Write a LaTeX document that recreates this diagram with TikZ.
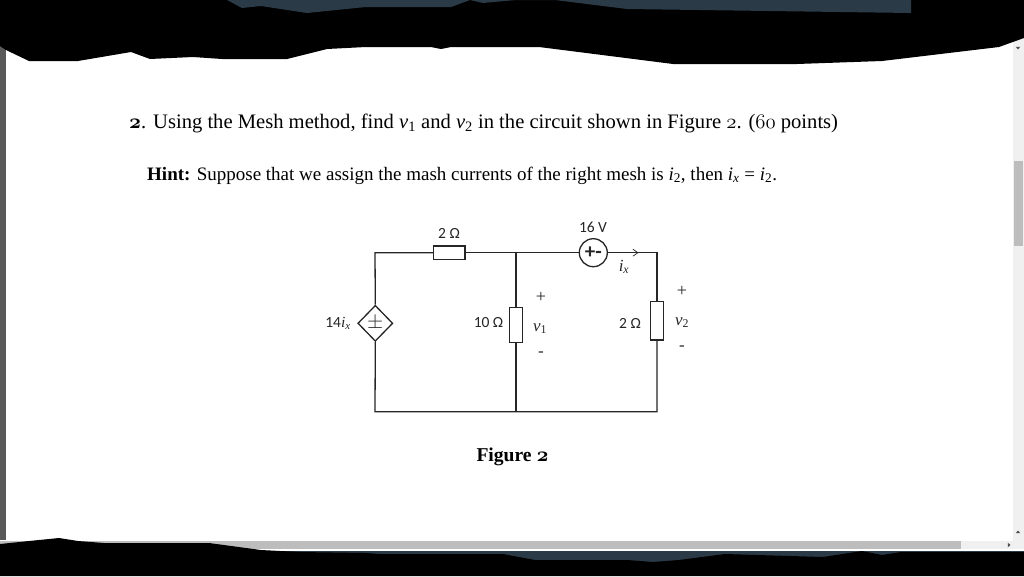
\documentclass[tikz,border=0pt]{standalone}
\usepackage{fontspec}
\setmainfont{Liberation Serif}
\newfontfamily\labelfont{Carlito}
\usetikzlibrary{shapes.geometric,arrows.meta}
\newcommand{\oldnum}[1]{$\mathnormal{#1}$}
\newcommand{\boldnum}[1]{{\boldmath$\mathnormal{#1}$}}
\newcommand{\varsub}[2]{{\rmfamily\itshape #1}\textsubscript{\rmfamily #2}}
\newcommand{\ixvar}{{\rmfamily\itshape i}\textsubscript{\rmfamily\itshape x}}
\definecolor{slate}{HTML}{2B3A47}
\definecolor{barfill}{HTML}{BDBDBD}
\definecolor{trackfill}{HTML}{F0F0F0}
\tikzset{
    wire/.style={line width=1.3pt, black!85, line join=miter},
    resbox/.style={draw, line width=1.3pt, black!85, inner sep=0pt},
    clabel/.style={font=\labelfont\fontsize{15.5}{17}\selectfont, text=black!85, inner sep=0pt},
    mathlabel/.style={font=\fontsize{17}{19}\selectfont, text=black!85, inner sep=0pt},
    textline/.style={anchor=base west, inner sep=0pt, text=black},
}
\begin{document}
\begin{tikzpicture}[x=1pt,y=-1pt]
    \useasboundingbox (0,0) rectangle (1024,576);
    \fill[white] (0,0) rectangle (1024,576);
    % window edges
    \fill[black!65] (0,40) rectangle (6,540);
    \fill[trackfill] (1013,30) rectangle (1024,541);
    \fill[barfill] (1014,160.5) rectangle (1023,246);
    \fill[trackfill] (0,541) rectangle (1024,549);
    \fill[barfill] (0,541) rectangle (961,549);
    \fill[slate] (270,551) rectangle (1024,576);
    \foreach \x/\y/\a in {1018/47/90, 1018/533/-90, 1008/545/0}
        \fill[black!70] (\x,\y) ++(\a:2.5) -- ++(\a+140:3.5) -- ++(\a-90:4.5) -- cycle;
    % scribbled bars
    \fill[black] (0,0) -- (1024,0) -- (1024,38) -- (999,47) -- (882,61) -- (797,64) -- (673,64)
        -- (539,47) -- (451,47) -- (441,49) -- (431,47) -- (366,47) -- (327,49) -- (287,59)
        -- (222,59) -- (193,57) -- (150,59) -- (131,52) -- (78,61) -- (29,61) -- (6,50) -- (0,46) -- cycle;
    \fill[slate] (227,0) -- (242,8) -- (261,6) -- (307,13) -- (366,7) -- (451,7) -- (470,0) -- (483,3)
        -- (516,0) -- (555,0) -- (627,9) -- (911,13) -- (911,0) -- cycle;
    \fill[black] (0,544) -- (29,541) -- (59,538) -- (78,541) -- (104,543) -- (209,543) -- (261,550)
        -- (300,552) -- (366,553) -- (379,554) -- (503,554) -- (535,560) -- (627,560) -- (653,562)
        -- (679,560) -- (725,554) -- (823,557) -- (862,551) -- (882,555) -- (901,552) -- (1024,552)
        -- (1024,576) -- (0,576) -- cycle;
    % question text
    \node[textline, font=\fontsize{20.6}{22}\selectfont] (question) at (129,128)
        {\boldnum{2}. Using the Mesh method, find \varsub{v}{1} and \varsub{v}{2} in the circuit shown in Figure \oldnum{2}. (\oldnum{60} points)};
    \node[textline, font=\fontsize{19}{22}\selectfont] (hint) at (147,180)
        {\textbf{Hint:} Suppose that we assign the mash currents of the right mesh is \varsub{i}{2}, then \ixvar{} = \varsub{i}{2}.};
    \node[font=\bfseries\fontsize{19.6}{20}\selectfont, inner sep=0pt] (caption) at (512.5,457) {Figure \boldnum{2}};
    % circuit
    \coordinate (tl) at (375,252.7);
    \coordinate (tm) at (516,252.7);
    \coordinate (tr) at (657,252.7);
    \coordinate (bl) at (375,411.7);
    \coordinate (bm) at (516,411.7);
    \coordinate (br) at (657,411.7);
    \node[resbox, minimum width=31.5pt, minimum height=13.3pt] (r1) at (449.2,252.7) {};
    \node[resbox, minimum width=12.6pt, minimum height=35.4pt] (r10) at (516,325) {};
    \node[resbox, minimum width=12.6pt, minimum height=38.3pt] (r2) at (657,320.8) {};
    \node[draw, circle, line width=1.3pt, black!85, minimum size=28pt, inner sep=0pt,
        font=\labelfont\bfseries\fontsize{21}{21}\selectfont] (vs) at (593.3,252.7) {+-};
    \node[draw, diamond, line width=1.3pt, black!85, minimum width=35pt, minimum height=36pt, inner sep=0pt,
        font=\fontsize{20}{20}\selectfont] (dep) at (375.3,323.3) {$\pm$};
    \draw[wire] (dep.north) -- (tl) -- (r1.west);
    \draw[wire] (r1.east) -- (vs.west);
    \draw[wire] (vs.east) -- (tr) -- (r2.north);
    \draw[wire] (r2.south) -- (br) -- (bl) -- (dep.south);
    \draw[wire] (tm) -- (r10.north);
    \draw[wire] (r10.south) -- (bm);
    \coordinate (arrowend) at (638.5,252.7);
    \draw[black!85, line width=0.7pt, -{Straight Barb[length=5pt,width=7pt]}] (vs.east) -- (arrowend);
    % labels
    \node[clabel] (lr1) at (449,233) {2 Ω};
    \node[clabel] (lvs) at (593,227.5) {16 V};
    \node[clabel] (ldep) at (338,323) {14\ixvar};
    \node[clabel] (lr10) at (488.5,322.5) {10 Ω};
    \node[clabel] (lr2) at (630,323) {2 Ω};
    \node[mathlabel] (lix) at (624,267) {\ixvar};
    \node[mathlabel] (lv1) at (540,328.5) {\varsub{v}{1}};
    \node[mathlabel] (lv2) at (682,322.5) {\varsub{v}{2}};
    \node[clabel, font=\fontsize{18}{18}\selectfont] (p1) at (541,297) {+};
    \node[clabel, font=\fontsize{18}{18}\selectfont] (p2) at (682,291) {+};
    \node[clabel, font=\fontsize{17}{17}\selectfont] (m1) at (541,354) {-};
    \node[clabel, font=\fontsize{17}{17}\selectfont] (m2) at (682,348) {-};
\end{tikzpicture}
\end{document}
